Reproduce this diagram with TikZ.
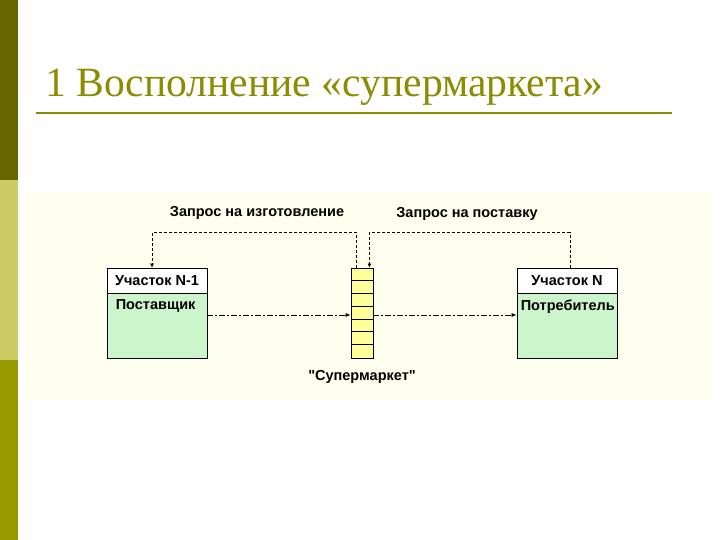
\documentclass[tikz,border=0pt]{standalone}
\usepackage{fontspec}
\setmainfont{Liberation Serif}
\newfontfamily\diagfont{Liberation Sans}
\usetikzlibrary{arrows.meta,calc}
\definecolor{bardark}{HTML}{666600}
\definecolor{barlight}{HTML}{CCCC66}
\definecolor{barmid}{HTML}{999900}
\definecolor{titlecol}{HTML}{8C8C00}
\definecolor{cream}{HTML}{FFFFF0}
\definecolor{boxgreen}{HTML}{CCF5CC}
\definecolor{smyellow}{HTML}{FFFF99}
\tikzset{
  lbl/.style={font=\diagfont\bfseries\fontsize{14.5}{16}\selectfont, inner sep=0pt},
  head/.style={draw=black, fill=white, line width=0.8pt, minimum width=100pt, minimum height=25pt, inner sep=0pt, lbl},
  body/.style={draw=black, fill=boxgreen, line width=0.8pt, minimum width=100pt, minimum height=65pt, inner sep=0pt},
  req/.style={densely dashed, line width=0.6pt, -{Latex[length=4pt,width=4pt]}},
  flow/.style={dash pattern=on 6pt off 2pt on 2pt off 2pt, line width=0.6pt, -{Latex[length=5pt,width=4pt]}}
}
\begin{document}
\begin{tikzpicture}[x=1pt,y=-1pt]
\useasboundingbox (0,0) rectangle (720,540);
\fill[white] (0,0) rectangle (720,540);
\fill[bardark] (0,0) rectangle (18,180);
\fill[barlight] (0,180) rectangle (18,360);
\fill[barmid] (0,360) rectangle (18,540);
\fill[cream] (26,192) rectangle (712,400);
\node[anchor=base west, inner sep=0pt, text=titlecol, font=\fontsize{41.6}{42}\selectfont] (title) at (45,97) {1 Восполнение «супермаркета»};
\draw[titlecol, line width=2pt] (36,113) -- (672,113);

\node[head] (lhead) at (157,280.5) {Участок N-1};
\node[body, anchor=north] (lbody) at (lhead.south) {};
\node[lbl, anchor=north west] (ltext) at ($(lbody.north west)+(9,6)$) {Поставщик};

\node[head] (rhead) at (567,280.5) {Участок N};
\node[body, anchor=north] (rbody) at (rhead.south) {};
\node[lbl, anchor=north west] (rtext) at ($(rbody.north west)+(4,6)$) {Потребитель};

\node[draw=black, fill=smyellow, line width=0.8pt, minimum width=22pt, minimum height=90pt, inner sep=0pt] (sm) at (362,313) {};
\foreach \k in {1,...,6} {
  \draw[line width=0.8pt] ($(sm.north west)+(0,\k*90/7)$) -- ($(sm.north east)+(0,\k*90/7)$);
}

\node[lbl] (lreq) at (257,213) {Запрос на изготовление};
\node[lbl] (rreq) at (467,214) {Запрос на поставку};
\node[lbl] (smlbl) at (362,377) {"Супермаркет"};

\draw[req] ($(sm.north west)+(6,0)$) -- ++(0,-35) -| ($(lhead.north)+(-5,0)$);
\draw[req] ($(rhead.north)+(3,0)$) -- ++(0,-35) -| ($(sm.north east)+(-4,0)$);

\draw[flow] ($(sm.west -| lbody.east)+(0,2)$) -- ($(sm.west)+(0,2)$);
\draw[flow] ($(sm.east)+(0,2)$) -- ($(sm.east -| rbody.west)+(0,2)$);
\end{tikzpicture}
\end{document}
